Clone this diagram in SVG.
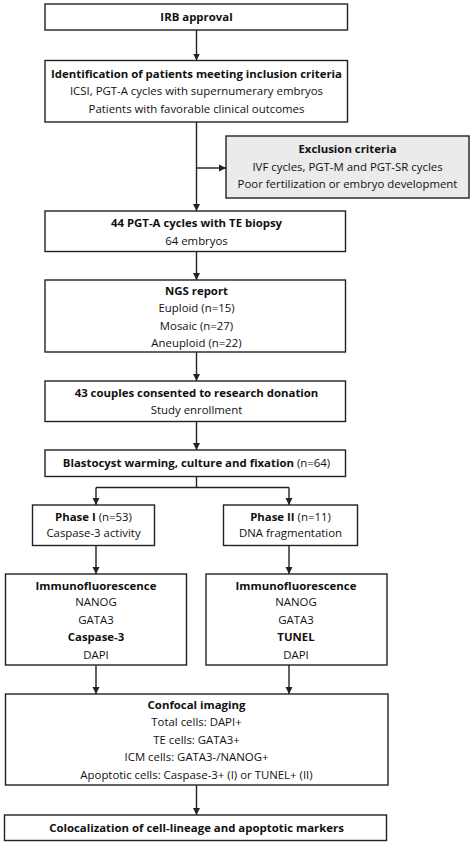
<svg xmlns="http://www.w3.org/2000/svg" width="474" height="846" viewBox="0 0 474 846">
<style>
.box{fill:#fff;stroke:#222;stroke-width:1.4}
.gray{fill:#ebebeb}
text{font-family:"Open Sans","DejaVu Sans",sans-serif;font-size:11.4px;fill:#111;text-anchor:middle}
.b{font-weight:bold;font-size:11.4px}
.c{fill:none;stroke:#222;stroke-width:1.4}
</style>
<defs>
<marker id="ah" viewBox="0 0 10 10" refX="10" refY="5" markerWidth="7" markerHeight="8" markerUnits="userSpaceOnUse" orient="auto">
<path d="M0,0 L10,5 L0,10 z" fill="#222"/>
</marker>
</defs>
<g id="connectors">
<line class="c" x1="196.5" y1="30" x2="196.5" y2="60.5" marker-end="url(#ah)"/>
<line class="c" x1="196.5" y1="122" x2="196.5" y2="211" marker-end="url(#ah)"/>
<line class="c" x1="196.5" y1="168" x2="226" y2="168" marker-end="url(#ah)"/>
<line class="c" x1="196.5" y1="252" x2="196.5" y2="280" marker-end="url(#ah)"/>
<line class="c" x1="196.5" y1="352" x2="196.5" y2="381" marker-end="url(#ah)"/>
<line class="c" x1="196.5" y1="422" x2="196.5" y2="450" marker-end="url(#ah)"/>
<polyline class="c" points="196.5,477 196.5,487.5"/>
<line class="c" x1="96" y1="487.5" x2="289" y2="487.5"/>
<line class="c" x1="96" y1="487.5" x2="96" y2="505" marker-end="url(#ah)"/>
<line class="c" x1="289" y1="487.5" x2="289" y2="505" marker-end="url(#ah)"/>
<line class="c" x1="96" y1="546" x2="96" y2="574" marker-end="url(#ah)"/>
<line class="c" x1="289" y1="546" x2="289" y2="574" marker-end="url(#ah)"/>
<line class="c" x1="96" y1="665" x2="96" y2="694" marker-end="url(#ah)"/>
<line class="c" x1="289" y1="665" x2="289" y2="694" marker-end="url(#ah)"/>
<line class="c" x1="196.5" y1="785" x2="196.5" y2="815" marker-end="url(#ah)"/>
</g>
<g id="irb">
<rect class="box" x="45" y="4" width="302.5" height="26"/>
<text class="b" x="196.5" y="21">IRB approval</text>
</g>
<g id="identification">
<rect class="box" x="45" y="60.5" width="302.5" height="61.5"/>
<text class="b" x="196.5" y="78">Identification of patients meeting inclusion criteria</text>
<text x="196.5" y="95">ICSI, PGT-A cycles with supernumerary embryos</text>
<text x="196.5" y="112.5">Patients with favorable clinical outcomes</text>
</g>
<g id="exclusion">
<rect class="box gray" x="226" y="136" width="243" height="62"/>
<text class="b" x="347.5" y="153">Exclusion criteria</text>
<text x="347.5" y="170.5">IVF cycles, PGT-M and PGT-SR cycles</text>
<text x="347.5" y="188">Poor fertilization or embryo development</text>
</g>
<g id="pgta">
<rect class="box" x="45" y="211" width="300.5" height="40.5"/>
<text class="b" x="196.5" y="227">44 PGT-A cycles with TE biopsy</text>
<text x="196.5" y="244.5">64 embryos</text>
</g>
<g id="ngs">
<rect class="box" x="45" y="280" width="300.5" height="72"/>
<text class="b" x="196.5" y="294.5">NGS report</text>
<text x="196.5" y="312">Euploid (n=15)</text>
<text x="196.5" y="329.5">Mosaic (n=27)</text>
<text x="196.5" y="347">Aneuploid (n=22)</text>
</g>
<g id="couples">
<rect class="box" x="45" y="381" width="300.5" height="40.5"/>
<text class="b" x="196.5" y="396.5">43 couples consented to research donation</text>
<text x="196.5" y="414">Study enrollment</text>
</g>
<g id="blastocyst">
<rect class="box" x="45" y="450" width="300.5" height="26.5"/>
<text x="196.5" y="467"><tspan class="b">Blastocyst warming, culture and fixation</tspan> (n=64)</text>
</g>
<g id="phase1">
<rect class="box" x="32.5" y="505" width="122" height="40.5"/>
<text x="93.5" y="520.5"><tspan class="b">Phase I</tspan> (n=53)</text>
<text x="93.5" y="536.5">Caspase-3 activity</text>
</g>
<g id="phase2">
<rect class="box" x="223.5" y="505" width="134" height="40.5"/>
<text x="290.5" y="520.5"><tspan class="b">Phase II</tspan> (n=11)</text>
<text x="290.5" y="536.5">DNA fragmentation</text>
</g>
<g id="immuno1">
<rect class="box" x="5.5" y="574" width="181" height="91"/>
<text class="b" x="96" y="589.5">Immunofluorescence</text>
<text x="96" y="606">NANOG</text>
<text x="96" y="623.5">GATA3</text>
<text class="b" x="96" y="641">Caspase-3</text>
<text x="96" y="658.5">DAPI</text>
</g>
<g id="immuno2">
<rect class="box" x="206" y="574" width="181" height="91"/>
<text class="b" x="296" y="589.5">Immunofluorescence</text>
<text x="296" y="606">NANOG</text>
<text x="296" y="623.5">GATA3</text>
<text class="b" x="296" y="641">TUNEL</text>
<text x="296" y="658.5">DAPI</text>
</g>
<g id="confocal">
<rect class="box" x="5.5" y="694" width="382.5" height="91"/>
<text class="b" x="196.5" y="708.5">Confocal imaging</text>
<text x="196.5" y="726">Total cells: DAPI+</text>
<text x="196.5" y="743.5">TE cells: GATA3+</text>
<text x="196.5" y="761">ICM cells: GATA3-/NANOG+</text>
<text x="196.5" y="778.5">Apoptotic cells: Caspase-3+ (I) or TUNEL+ (II)</text>
</g>
<g id="colocalization">
<rect class="box" x="4.5" y="815" width="382" height="25.5"/>
<text class="b" x="196.5" y="831.5">Colocalization of cell-lineage and apoptotic markers</text>
</g>
</svg>
